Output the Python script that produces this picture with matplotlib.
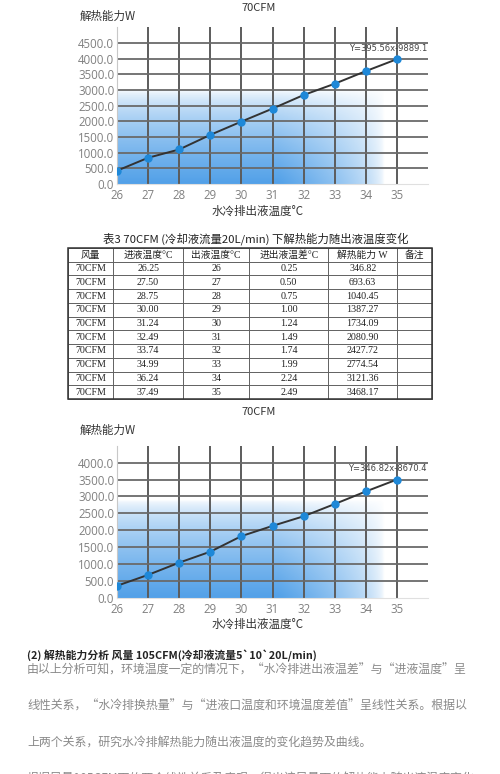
import numpy as np
import matplotlib
matplotlib.use("Agg")
import matplotlib.pyplot as plt
from matplotlib.patches import Rectangle

plt.rcParams['font.family'] = ['Noto Sans CJK SC', 'DejaVu Sans']

# dados
temps = [26, 27, 28, 29, 30, 31, 32, 33, 34, 35]
cap_1 = [424, 837, 1102, 1568, 1992, 2405, 2839, 3199, 3602, 3983]
cap_2 = [353, 676, 1039, 1363, 1824, 2127, 2412, 2775, 3147, 3500]
eq_1 = "Y=395.56x-9889.1"
eq_2 = "Y=346.82x-8670.4"

chart_title = "70CFM"
y_label = "解热能力W"
x_label = "水冷排出液温度°C"

table_title = "表3 70CFM (冷却液流量20L/min) 下解热能力随出液温度变化"
col_labels = ["风量", "进液温度°C", "出液温度°C", "进出液温差°C", "解热能力 W", "备注"]
air_flow = ["70CFM"] * 10
t_in = ["26.25", "27.50", "28.75", "30.00", "31.24", "32.49", "33.74", "34.99", "36.24", "37.49"]
t_out = ["26", "27", "28", "29", "30", "31", "32", "33", "34", "35"]
t_diff = ["0.25", "0.50", "0.75", "1.00", "1.24", "1.49", "1.74", "1.99", "2.24", "2.49"]
power = ["346.82", "693.63", "1040.45", "1387.27", "1734.09", "2080.90", "2427.72", "2774.54", "3121.36", "3468.17"]
notes = [""] * 10

heading = "(2) 解热能力分析 风量 105CFM(冷却液流量5`10`20L/min)"
para = [
    "由以上分析可知，环境温度一定的情况下，“水冷排进出液温差”与“进液温度”呈",
    "线性关系，“水冷排换热量”与“进液口温度和环境温度差值”呈线性关系。根据以",
    "上两个关系，研究水冷排解热能力随出液温度的变化趋势及曲线。",
    "根据风量105CFM下的两个线性关系及表现，得出该风量下的解热能力随出液温度变化",
]

W, H = 500, 774
fig = plt.figure(figsize=(W / 100, H / 100), dpi=100)


def fx(x):
    return x / W


def fy(y):
    return 1 - y / H


def desenha_grafico(rect, vals, ymax, ytop, eq, eq_off, grad_top):
    ax = fig.add_axes(rect)
    ax.set_xlim(26, 36)
    ax.set_ylim(0, ymax)

    # gradiente azul no fundo
    gx = np.linspace(26, 36, 300)
    gy = np.linspace(0, ymax, 300)
    GX, GY = np.meshgrid(gx, gy)
    ay = np.clip(1 - GY / grad_top, 0, 1) ** 0.6
    ax_ = np.clip((34.6 - GX) / 3.4, 0, 1) ** 0.55
    rgba = np.zeros(GX.shape + (4,))
    rgba[..., 0] = 0.32
    rgba[..., 1] = 0.63
    rgba[..., 2] = 0.91
    rgba[..., 3] = ay * ax_
    ax.imshow(rgba, extent=[26, 36, 0, ymax], origin='lower', aspect='auto', zorder=0)

    for xv in temps[1:]:
        ax.axvline(xv, color='#5c5c5c', lw=1.4, zorder=1)
    for yv in np.arange(500, ytop + 1, 500):
        ax.axhline(yv, color='#6a6a6a', lw=1.3, zorder=1)

    ax.plot(temps, vals, color='#333333', lw=1.4, zorder=3)
    ax.plot(temps, vals, 'o', color='#1e88d8', ms=5, zorder=4)
    ax.annotate(eq, xy=(temps[-1], vals[-1]), xytext=eq_off, textcoords='offset points',
                ha='center', va='center', fontsize=6, color='#444444', family='DejaVu Sans')

    ax.set_xticks(temps)
    ax.set_yticks(np.arange(0, ytop + 1, 500))
    ax.set_yticklabels(["%.1f" % v for v in np.arange(0, ytop + 1, 500)])
    ax.tick_params(length=0, labelsize=8.3, labelcolor='#808080', pad=2)
    ax.tick_params(axis='x', pad=3.5)
    for lab in ax.get_xticklabels() + ax.get_yticklabels():
        lab.set_family('Open Sans')
    for s in ['top', 'right']:
        ax.spines[s].set_visible(False)
    ax.spines['left'].set_color('#c8c8c8')
    ax.spines['bottom'].set_color('#e0e0e0')
    return ax


desenha_grafico([fx(117), fy(184), fx(428) - fx(117), fy(27.3) - fy(184)],
                cap_1, 5000, 4500, eq_1, (-6, 8), 3000)
fig.text(fx(259), fy(8), chart_title, ha='center', va='center', fontsize=8, color='#333333')
fig.text(fx(80), fy(16), y_label, ha='left', va='center', fontsize=8.3, color='#333333')
fig.text(fx(258), fy(211), x_label, ha='center', va='center', fontsize=8.3, color='#333333')

desenha_grafico([fx(117), fy(597.7), fx(428) - fx(117), fy(445.8) - fy(597.7)],
                cap_2, 4500, 4000, eq_2, (-7, 8), 2900)
fig.text(fx(259), fy(412), chart_title, ha='center', va='center', fontsize=8, color='#333333')
fig.text(fx(80), fy(430), y_label, ha='left', va='center', fontsize=8.3, color='#333333')
fig.text(fx(258), fy(624), x_label, ha='center', va='center', fontsize=8.3, color='#333333')

# tabela
fig.text(fx(256), fy(239), table_title, ha='center', va='center', fontsize=8.2, color='#222222')
ax_t = fig.add_axes([fx(68), fy(399), fx(432) - fx(68), fy(248) - fy(399)])
ax_t.axis('off')
rows = list(zip(air_flow, t_in, t_out, t_diff, power, notes))
col_w = [45, 70, 66, 79, 68.5, 35]
tbl = ax_t.table(cellText=rows, colLabels=col_labels, colWidths=[c / sum(col_w) for c in col_w],
                 bbox=[0, 0, 1, 1], cellLoc='center')
tbl.auto_set_font_size(False)
for (r, c), cell in tbl.get_celld().items():
    cell.set_edgecolor('#555555')
    cell.set_linewidth(0.6)
    cell.get_text().set_color('#222222')
    cell.get_text().set_family(['Liberation Serif', 'Noto Sans CJK SC'])
    cell.get_text().set_fontsize(7 if r == 0 else 7.2)
ax_t.add_patch(Rectangle((0, 0), 1, 1, transform=ax_t.transAxes, fill=False,
                         edgecolor='#333333', lw=1.1, clip_on=False))

# texto de baixo
fig.text(fx(27), fy(656), heading, ha='left', va='center', fontsize=7.8, color='#222222', weight='bold')
for i, linha in enumerate(para):
    fig.text(fx(27), fy(670 + 36.5 * i), linha, ha='left', va='center', fontsize=8.6, color='#8a8a8a')

fig.savefig("out.png", dpi=100)
